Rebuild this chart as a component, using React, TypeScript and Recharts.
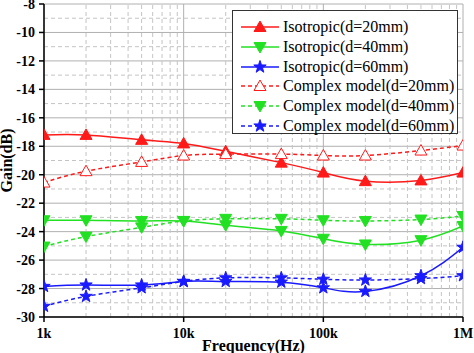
import React from "react";
import {
  LineChart,
  Line,
  XAxis,
  YAxis,
  CartesianGrid,
  ReferenceLine,
} from "recharts";

// frequency points (Hz)
const FREQ = [1000, 2000, 5000, 10000, 20000, 50000, 100000, 200000, 500000, 1000000];

// gain (dB)
const ISO_20 = [-17.2, -17.2, -17.55, -17.8, -18.35, -19.15, -19.85, -20.45, -20.4, -19.85];
const ISO_40 = [-23.2, -23.2, -23.25, -23.25, -23.55, -23.95, -24.5, -24.9, -24.6, -23.6];
const ISO_60 = [-27.85, -27.75, -27.75, -27.5, -27.5, -27.55, -27.95, -28.2, -27.1, -25.1];
const CPX_20 = [-20.55, -19.75, -19.1, -18.65, -18.55, -18.55, -18.65, -18.65, -18.3, -17.95];
const CPX_40 = [-25.05, -24.35, -23.7, -23.25, -23.1, -23.1, -23.2, -23.25, -23.15, -22.9];
const CPX_60 = [-29.25, -28.55, -27.95, -27.5, -27.25, -27.25, -27.35, -27.4, -27.3, -27.1];

const X_TICKS = [1000, 10000, 100000, 1000000];
const X_TICK_LABELS = ["1k", "10k", "100k", "1M"];
const X_MINOR = [
  2000, 3000, 4000, 5000, 6000, 7000, 8000, 9000,
  20000, 30000, 40000, 50000, 60000, 70000, 80000, 90000,
  200000, 300000, 400000, 500000, 600000, 700000, 800000, 900000,
];
const Y_TICKS = [-30, -28, -26, -24, -22, -20, -18, -16, -14, -12, -10, -8];
const Y_MINOR = [-29, -27, -25, -23, -21, -19, -17, -15, -13, -11, -9];

const RED = "#ff1a1a";
const GREEN = "#22e022";
const BLUE = "#1a1aff";

type MarkerKind = "up" | "upOpen" | "down" | "star";

const SERIES = [
  { key: "iso20", name: "Isotropic(d=20mm)", values: ISO_20, color: RED, dash: undefined, marker: "up" as MarkerKind },
  { key: "iso40", name: "Isotropic(d=40mm)", values: ISO_40, color: GREEN, dash: undefined, marker: "down" as MarkerKind },
  { key: "iso60", name: "Isotropic(d=60mm)", values: ISO_60, color: BLUE, dash: undefined, marker: "star" as MarkerKind },
  { key: "cpx20", name: "Complex model(d=20mm)", values: CPX_20, color: RED, dash: "4 3", marker: "upOpen" as MarkerKind },
  { key: "cpx40", name: "Complex model(d=40mm)", values: CPX_40, color: GREEN, dash: "4 3", marker: "down" as MarkerKind },
  { key: "cpx60", name: "Complex model(d=60mm)", values: CPX_60, color: BLUE, dash: "4 3", marker: "star" as MarkerKind },
];

const data = FREQ.map((f, i) => {
  const row: Record<string, number> = { freq: f };
  SERIES.forEach((s) => {
    row[s.key] = s.values[i];
  });
  return row;
});

const FONT = '"Liberation Serif", "Times New Roman", serif';

function markerPath(kind: MarkerKind, cx: number, cy: number) {
  const r = 6;
  if (kind === "up" || kind === "upOpen") {
    return `M${cx},${cy - r} L${cx + r},${cy + r * 0.75} L${cx - r},${cy + r * 0.75}Z`;
  }
  if (kind === "down") {
    return `M${cx},${cy + r} L${cx + r},${cy - r * 0.75} L${cx - r},${cy - r * 0.75}Z`;
  }
  const pts: string[] = [];
  for (let k = 0; k < 10; k++) {
    const rad = k % 2 === 0 ? 6.5 : 2.6;
    const a = -Math.PI / 2 + (k * Math.PI) / 5;
    pts.push(`${cx + rad * Math.cos(a)},${cy + rad * Math.sin(a)}`);
  }
  return `M${pts.join(" L")}Z`;
}

function Marker({ kind, color, cx, cy }: { kind: MarkerKind; color: string; cx: number; cy: number }) {
  const open = kind === "upOpen";
  return (
    <path
      d={markerPath(kind, cx, cy)}
      fill={open ? "#fff" : color}
      stroke={color}
      strokeWidth={1}
    />
  );
}

function EmptyTick() {
  return <g />;
}

function LegendBox() {
  return (
    <div
      style={{
        position: "absolute",
        left: 232,
        top: 10,
        width: 226,
        height: 124,
        boxSizing: "border-box",
        border: "1px solid #333",
        background: "#fff",
        fontFamily: FONT,
        fontSize: 16,
        color: "#000",
      }}
    >
      {SERIES.map((s, i) => (
        <div
          key={s.key}
          style={{
            position: "absolute",
            left: 0,
            top: 6 + i * 19.8,
            height: 20,
            display: "flex",
            alignItems: "center",
          }}
        >
          <svg width={50} height={20} style={{ display: "block" }}>
            <line x1={8} y1={10} x2={46} y2={10} stroke={s.color} strokeWidth={1.5} strokeDasharray={s.dash} />
            <Marker kind={s.marker} color={s.color} cx={27} cy={10} />
          </svg>
          <span style={{ whiteSpace: "nowrap", lineHeight: "20px" }}>{s.name}</span>
        </div>
      ))}
    </div>
  );
}

const tickStyle = { fill: "#000", fontFamily: FONT, fontWeight: "bold", fontSize: 14 };

export default function App() {
  return (
    <div style={{ position: "relative", width: 474, height: 353, background: "#fff" }}>
      <style>{"body{margin:0}"}</style>
      <LineChart
        width={474}
        height={353}
        data={data}
        margin={{ top: 4, right: 11, left: 0, bottom: 0 }}
      >
        <CartesianGrid stroke="#b0b0b0" strokeWidth={1} />
        {X_MINOR.map((v) => (
          <ReferenceLine key={`xm${v}`} x={v} stroke="#c4c4c4" strokeDasharray="4 3" />
        ))}
        {Y_MINOR.map((v) => (
          <ReferenceLine key={`ym${v}`} y={v} stroke="#c4c4c4" strokeDasharray="4 3" />
        ))}
        {/* minor tick marks, drawn first so they sit right on the frame */}
        <XAxis
          xAxisId="minor"
          dataKey="freq"
          type="number"
          scale="log"
          domain={[1000, 1000000]}
          ticks={X_MINOR}
          height={0}
          axisLine={false}
          stroke="#000"
          tickSize={3}
          tick={<EmptyTick />}
        />
        <YAxis
          yAxisId="minor"
          type="number"
          domain={[-30, -8]}
          ticks={Y_MINOR}
          width={0}
          axisLine={false}
          stroke="#000"
          tickSize={3}
          tick={<EmptyTick />}
        />
        <XAxis
          dataKey="freq"
          type="number"
          scale="log"
          domain={[1000, 1000000]}
          ticks={X_TICKS}
          tickFormatter={(v: number) => X_TICK_LABELS[X_TICKS.indexOf(v)] ?? ""}
          allowDataOverflow
          height={36}
          stroke="#000"
          strokeWidth={1.5}
          tickSize={5}
          tickMargin={6}
          tick={tickStyle}
          label={{
            value: "Frequency(Hz)",
            position: "insideBottom",
            offset: 2,
            style: { fill: "#000", fontFamily: FONT, fontWeight: "bold", fontSize: 16 },
          }}
        />
        <XAxis
          xAxisId="top"
          dataKey="freq"
          type="number"
          scale="log"
          domain={[1000, 1000000]}
          ticks={X_TICKS}
          orientation="top"
          mirror
          height={0}
          stroke="#000"
          strokeWidth={1.5}
          tickSize={5}
          tick={<EmptyTick />}
        />
        <YAxis
          type="number"
          domain={[-30, -8]}
          ticks={Y_TICKS}
          interval={0}
          allowDataOverflow
          width={44}
          stroke="#000"
          strokeWidth={1.5}
          tickSize={5}
          tickMargin={4}
          tick={tickStyle}
          label={{
            value: "Gain(dB)",
            angle: -90,
            position: "insideLeft",
            offset: 6,
            style: { fill: "#000", fontFamily: FONT, fontWeight: "bold", fontSize: 16, textAnchor: "middle" },
          }}
        />
        <YAxis
          yAxisId="right"
          type="number"
          domain={[-30, -8]}
          ticks={Y_TICKS}
          orientation="right"
          mirror
          width={0}
          stroke="#000"
          strokeWidth={1.5}
          tickSize={5}
          tick={<EmptyTick />}
        />
        {SERIES.map((s) => (
          <Line
            key={s.key}
            dataKey={s.key}
            name={s.name}
            type="natural"
            stroke={s.color}
            strokeWidth={1.5}
            strokeDasharray={s.dash}
            isAnimationActive={false}
            dot={(p: any) => (
              <Marker key={`${s.key}-${p.index}`} kind={s.marker} color={s.color} cx={p.cx} cy={p.cy} />
            )}
            activeDot={false}
          />
        ))}
      </LineChart>
      <LegendBox />
    </div>
  );
}
